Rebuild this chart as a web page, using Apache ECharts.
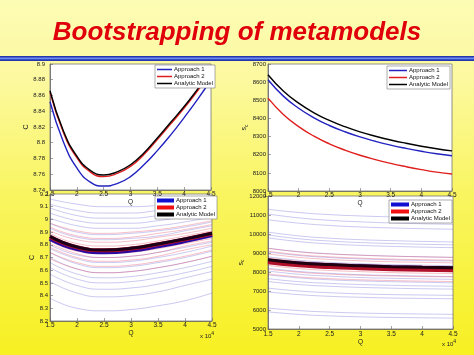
<!DOCTYPE html>
<html><head><meta charset="utf-8">
<script src="https://cdn.jsdelivr.net/npm/echarts@6/dist/echarts.min.js"></script>
<style>
html,body{margin:0;padding:0;}
#c{width:474px;height:355px;background:linear-gradient(to bottom,#fdfcb4 0%,#fcf9a0 22%,#f9f560 55%,#f7f022 100%);}
</style>
</head><body><div id="c"></div>
<script>
// Q axis (x 10^4)
const Q13 = [1.5,1.75,2,2.25,2.5,2.75,3,3.25,3.5,3.75,4,4.25,4.5];
const Q7 = [1.5,2,2.5,3,3.5,4,4.5];

// Top-left: C vs Q
const tlApproach1 = [8.852,8.801,8.768,8.750,8.745,8.748,8.757,8.772,8.790,8.810,8.832,8.855,8.880];
const tlApproach2 = [8.864,8.813,8.781,8.763,8.757,8.761,8.770,8.785,8.804,8.824,8.844,8.866,8.889];
const tlAnalytic  = [8.866,8.815,8.783,8.765,8.759,8.763,8.772,8.787,8.806,8.826,8.846,8.868,8.891];

// Top-right: s_c vs Q
const trApproach1 = [8613,8523,8456,8403,8361,8327,8298,8274,8253,8235,8219,8205,8194];
const trApproach2 = [8512,8422,8355,8302,8260,8226,8197,8173,8152,8134,8118,8104,8094];
const trAnalytic  = [8641,8551,8484,8431,8389,8355,8326,8302,8281,8263,8247,8233,8221];

// Bottom-left: bootstrap replicates of C
const blBootBlue = [
 [9.16,9.12,9.10,9.10,9.11,9.13,9.15],
 [9.12,9.07,9.05,9.05,9.07,9.09,9.12],
 [9.09,9.03,9.01,9.01,9.03,9.06,9.09],
 [9.05,8.99,8.97,8.97,8.99,9.02,9.05],
 [9.01,8.95,8.93,8.93,8.95,8.98,9.02],
 [8.97,8.90,8.88,8.89,8.91,8.94,8.98],
 [8.93,8.86,8.84,8.85,8.87,8.91,8.95],
 [8.84,8.77,8.74,8.75,8.78,8.82,8.86],
 [8.80,8.72,8.70,8.71,8.74,8.78,8.82],
 [8.77,8.69,8.66,8.67,8.70,8.74,8.79],
 [8.74,8.65,8.62,8.63,8.66,8.70,8.75],
 [8.70,8.61,8.58,8.59,8.62,8.66,8.71],
 [8.66,8.57,8.54,8.55,8.58,8.62,8.67],
 [8.62,8.53,8.50,8.51,8.54,8.58,8.63],
 [8.57,8.48,8.45,8.46,8.49,8.54,8.59],
 [8.51,8.42,8.39,8.40,8.43,8.48,8.53],
 [8.38,8.30,8.28,8.29,8.32,8.36,8.42]
];
const blBootRed = [
 [8.97,8.91,8.89,8.90,8.92,8.95,8.99],
 [8.94,8.87,8.85,8.86,8.89,8.92,8.96],
 [8.91,8.84,8.82,8.83,8.86,8.89,8.93],
 [8.89,8.81,8.79,8.80,8.83,8.87,8.91],
 [8.83,8.75,8.73,8.74,8.77,8.81,8.85],
 [8.81,8.73,8.70,8.71,8.74,8.79,8.83],
 [8.78,8.70,8.67,8.68,8.71,8.76,8.80],
 [8.74,8.66,8.63,8.64,8.67,8.71,8.76],
 [8.69,8.61,8.58,8.59,8.62,8.66,8.71]
];
const blApproach1 = [8.852,8.770,8.745,8.758,8.792,8.833,8.880];
const blApproach2 = [8.864,8.781,8.757,8.770,8.804,8.844,8.889];
const blAnalytic  = [8.866,8.783,8.759,8.772,8.806,8.846,8.891];

// Bottom-right: bootstrap replicates of s_c
const brBootBlue = [
 [11300,11130,11020,10950,10900,10860,10830],
 [11050,10850,10720,10640,10580,10540,10510],
 [10750,10570,10450,10370,10320,10280,10250],
 [10100,9900,9780,9700,9650,9610,9580],
 [9950,9750,9630,9550,9500,9460,9430],
 [9800,9600,9480,9400,9350,9310,9280],
 [9250,9070,8960,8890,8840,8800,8770],
 [9050,8870,8760,8690,8640,8600,8580],
 [8800,8620,8510,8440,8390,8360,8330],
 [8200,8030,7930,7860,7820,7790,7760],
 [8050,7880,7780,7710,7670,7640,7610],
 [7850,7690,7590,7530,7490,7460,7430],
 [7650,7490,7400,7340,7300,7270,7250],
 [7500,7340,7250,7190,7150,7120,7100],
 [7150,7000,6910,6850,6810,6790,6770],
 [6950,6810,6720,6670,6630,6610,6590],
 [6100,5970,5890,5840,5810,5790,5770],
 [5900,5770,5690,5640,5610,5590,5570]
];
const brBootRed = [
 [9250,9060,8950,8880,8830,8800,8770],
 [9100,8910,8800,8730,8680,8650,8620],
 [8950,8770,8660,8590,8540,8510,8480],
 [8750,8570,8460,8400,8350,8320,8290],
 [8500,8330,8220,8160,8110,8080,8060],
 [8350,8180,8080,8020,7970,7940,7920],
 [8150,7990,7890,7830,7790,7760,7740],
 [7900,7740,7650,7590,7550,7520,7500]
];
const brApproach1 = [8610,8450,8360,8300,8250,8220,8190];
const brApproach2 = [8510,8350,8260,8200,8150,8120,8090];
const brAnalytic  = [8640,8480,8390,8330,8280,8250,8220];

const FONT = 'Liberation Sans';
const C1 = '#2222c0', C2 = '#e01e1e', C3 = '#000000';

const chart = echarts.init(document.getElementById('c'), null, {renderer:'canvas'});

function pairs(xs, ys){ return xs.map((x,i)=>[x, ys[i]]); }
function fmt(v){ return String(+(+v).toFixed(4)); }

function gridDef(l,t,w,h){
  return {left:l, top:t, width:w, height:h, show:true, backgroundColor:'#ffffff',
          borderColor:'#777', borderWidth:0.8, containLabel:false, z:0};
}
function xAxisDef(g, margin, nameGap, z){
  return {type:'value', gridIndex:g, min:1.5, max:4.5, interval:0.5, z:z,
    name:'Q', nameLocation:'middle', nameGap:nameGap,
    nameTextStyle:{fontFamily:FONT, fontSize:6.5, color:'#222'},
    axisLine:{show:true, onZero:false, lineStyle:{color:'#666', width:0.8}},
    axisTick:{show:true, inside:true, length:3, lineStyle:{color:'#666', width:0.6}},
    axisLabel:{fontFamily:FONT, fontSize:6.5, color:'#222', margin:margin, formatter:fmt},
    splitLine:{show:false}};
}
function yAxisDef(g, min, max, interval, name, nameGap, margin, rich){
  const o = {type:'value', gridIndex:g, min:min, max:max, interval:interval,
    name:name, nameLocation:'middle', nameGap:nameGap, nameRotate:90,
    nameTextStyle:{fontFamily:FONT, fontSize:7, color:'#222'},
    axisLine:{show:true, onZero:false, lineStyle:{color:'#666', width:0.8}},
    axisTick:{show:true, inside:true, length:3, lineStyle:{color:'#666', width:0.6}},
    axisLabel:{fontFamily:FONT, fontSize:6, color:'#222', margin:margin, formatter:fmt},
    splitLine:{show:false}};
  if (rich) o.nameTextStyle.rich = rich;
  return o;
}
function lineSeries(name, g, xs, ys, color, width, z){
  return {type:'line', name:name, xAxisIndex:g, yAxisIndex:g, data:pairs(xs,ys),
    smooth:true, showSymbol:false, symbol:'none', silent:true, animation:false, z:z,
    lineStyle:{color:color, width:width}, itemStyle:{color:color}};
}
function faintSeries(g, ys, color, z){
  return {type:'line', xAxisIndex:g, yAxisIndex:g, data:pairs(Q7,ys),
    smooth:true, showSymbol:false, symbol:'none', silent:true, animation:false, z:z,
    lineStyle:{color:color, width:1}};
}
function legendDef(left, top, iw, ih, colors){
  return {show:true, orient:'vertical', left:left, top:top, selectedMode:false,
    data:[{name:'Approach 1', itemStyle:{color:colors[0]}},
          {name:'Approach 2', itemStyle:{color:colors[1]}},
          {name:'Analytic Model', itemStyle:{color:colors[2]}}],
    icon:'rect', itemWidth:iw, itemHeight:ih, itemGap:0,
    padding:[1,2,1,2], backgroundColor:'#ffffff', borderColor:'#777', borderWidth:0.6,
    textStyle:{fontFamily:FONT, fontSize:6, lineHeight:7, color:'#111', padding:[0,0,0,-3]}, z:10};
}

const scRich = {s:{fontFamily:FONT, fontSize:7, color:'#222'}, c:{fontFamily:FONT, fontSize:5, color:'#222', padding:[4,0,0,0]}};

const series = [];
series.push(lineSeries('Approach 1',0,Q13,tlApproach1,C1,1.4,3));
series.push(lineSeries('Approach 2',0,Q13,tlApproach2,C2,1.4,4));
series.push(lineSeries('Analytic Model',0,Q13,tlAnalytic,C3,1.4,5));
series.push(lineSeries('Approach 1',1,Q13,trApproach1,C1,1.4,3));
series.push(lineSeries('Approach 2',1,Q13,trApproach2,C2,1.4,4));
series.push(lineSeries('Analytic Model',1,Q13,trAnalytic,C3,1.4,5));
blBootBlue.forEach(ys=>series.push(faintSeries(2,ys,'rgba(70,60,200,0.28)',2)));
blBootRed.forEach(ys=>series.push(faintSeries(2,ys,'rgba(225,40,70,0.3)',2)));
series.push(lineSeries('Approach 1',2,Q7,blApproach1,'#2a0aa0',5,3));
series.push(lineSeries('Approach 2',2,Q7,blApproach2,'#c0102a',4,4));
series.push(lineSeries('Analytic Model',2,Q7,blAnalytic,'#1a0018',3,5));
brBootBlue.forEach(ys=>series.push(faintSeries(3,ys,'rgba(70,60,200,0.28)',2)));
brBootRed.forEach(ys=>series.push(faintSeries(3,ys,'rgba(225,40,70,0.3)',2)));
series.push(lineSeries('Approach 1',3,Q7,brApproach1,'#3a0a90',4,3));
series.push(lineSeries('Approach 2',3,Q7,brApproach2,'#b0102a',4,4));
series.push(lineSeries('Analytic Model',3,Q7,brAnalytic,'#200010',3,5));

const thin = [C1,C2,C3], thick = ['#1010d0','#f01010','#000000'];

const option = {
  backgroundColor:'transparent',
  animation:false,
  title:{text:'Bootstrapping of metamodels', left:'center', top:15,
    textStyle:{fontFamily:FONT, fontSize:26, fontStyle:'italic', fontWeight:'bold', color:'#e0000c'}},
  grid:[gridDef(50,64,161,126), gridDef(268,64,184,127), gridDef(50,194,162,127), gridDef(268,196,185,133)],
  xAxis:[xAxisDef(0,1,7,6), xAxisDef(1,1,7,6), xAxisDef(2,1,7,1), xAxisDef(3,1.5,8,1)],
  yAxis:[
    yAxisDef(0,8.74,8.9,0.02,'C',12,5),
    yAxisDef(1,8000,8700,100,'{s|s}{c|c}',14,2,scRich),
    yAxisDef(2,8.2,9.2,0.1,'C',12,2),
    yAxisDef(3,5000,12000,1000,'{s|s}{c|c}',17,2,scRich)
  ],
  legend:[legendDef(155,65,15,1.5,thin), legendDef(387,66,18,1.5,thin), legendDef(155,196,17,4,thick), legendDef(389,200,18,4,thick)],
  series:series,
  graphic:[
    {type:'rect', shape:{x:0,y:56,width:474,height:5}, style:{fill:'#2436b0'}, z:20},
    {type:'rect', shape:{x:0,y:57.6,width:474,height:1.6}, style:{fill:'#6a8cf0'}, z:21},
    {type:'text', left:200, top:331, z:20, style:{text:'x 10{e|4}', fontFamily:FONT, fontSize:6, fill:'#222',
      rich:{e:{fontSize:5, fill:'#222', padding:[0,0,5,0]}}}},
    {type:'text', left:442, top:339, z:20, style:{text:'x 10{e|4}', fontFamily:FONT, fontSize:6, fill:'#222',
      rich:{e:{fontSize:5, fill:'#222', padding:[0,0,5,0]}}}}
  ]
};
chart.setOption(option);
</script>
</body></html>
